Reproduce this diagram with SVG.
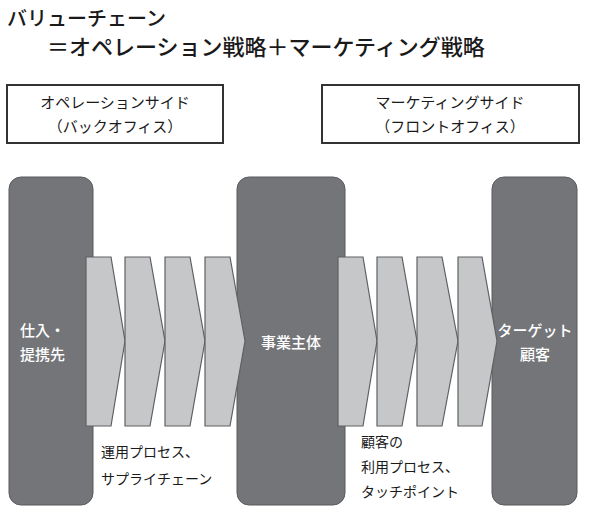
<svg xmlns="http://www.w3.org/2000/svg" width="600" height="526" viewBox="0 0 600 526">
<style>
text{font-family:"Noto Sans CJK JP","Liberation Sans",sans-serif;}
.t{font-size:20px;fill:#1a1a1a;font-weight:500}
.b{font-size:15px;fill:#1a1a1a;text-anchor:middle}
.n{font-size:15px;fill:#fff;text-anchor:middle;font-weight:500}
.l{font-size:14px;fill:#1a1a1a}
.box{fill:#fff;stroke:#333;stroke-width:2}
.node{fill:#747578;stroke:#5a5b5e;stroke-width:1}
.ch{fill:#c6c7c9;stroke:#5f6063;stroke-width:1.2}
</style>
<rect width="600" height="526" fill="#fff"/>
<text class="t" x="7" y="26">バリューチェーン</text>
<text class="t" x="47" y="55" style="font-size:22px">＝オペレーション戦略＋マーケティング戦略</text>
<g id="opside"><rect class="box" x="7" y="85" width="216" height="58"/>
<text class="b" x="115" y="108">オペレーションサイド</text><text class="b" x="115" y="132">（バックオフィス）</text></g>
<g id="mkside"><rect class="box" x="322" y="85" width="257" height="58"/>
<text class="b" x="450" y="108">マーケティングサイド</text><text class="b" x="450" y="132">（フロントオフィス）</text></g>
<g id="supplier"><rect class="node" x="9" y="177" width="84" height="328" rx="12"/>
<text class="n" x="20" y="336" style="text-anchor:start">仕入・</text><text class="n" x="20" y="360" style="text-anchor:start">提携先</text></g>
<g id="business"><rect class="node" x="237" y="177" width="108" height="328" rx="12"/>
<text class="n" x="291" y="348">事業主体</text></g>
<g id="customer"><rect class="node" x="492" y="177" width="85" height="328" rx="12"/>
<text class="n" x="535" y="336">ターゲット</text><text class="n" x="535" y="360">顧客</text></g>
<g id="connectors">
<polygon class="ch" points="86,257 111,257 125,341 111,426 86,426"/>
<polygon class="ch" points="125,257 150,257 165,341 150,426 125,426"/>
<polygon class="ch" points="165,257 190,257 205,341 190,426 165,426"/>
<polygon class="ch" points="205,257 230,257 245,341 230,426 205,426"/>
<polygon class="ch" points="338,257 363,257 377,341 363,426 338,426"/>
<polygon class="ch" points="377,257 402,257 417,341 402,426 377,426"/>
<polygon class="ch" points="417,257 442,257 458,341 442,426 417,426"/>
<polygon class="ch" points="458,257 482,257 497,341 482,426 458,426"/>
</g>
<text class="l" x="101" y="457">運用プロセス、</text>
<text class="l" x="101" y="484">サプライチェーン</text>
<text class="l" x="361" y="447">顧客の</text>
<text class="l" x="361" y="472">利用プロセス、</text>
<text class="l" x="361" y="497">タッチポイント</text>
</svg>
